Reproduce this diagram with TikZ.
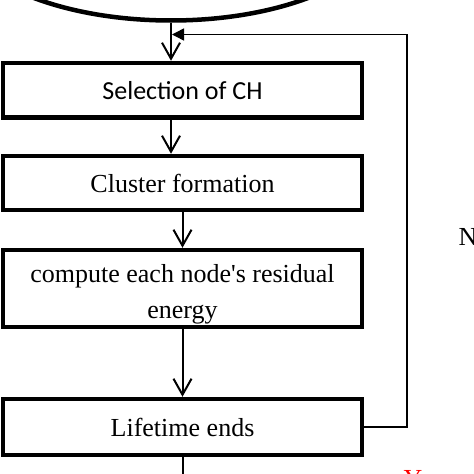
\documentclass[tikz,border=0pt]{standalone}
\usepackage{fontspec}
\setmainfont{Liberation Serif}
\newfontfamily\calibfont{Carlito}
\usetikzlibrary{shapes.geometric,arrows.meta,positioning,calc}

\begin{document}
\begin{tikzpicture}[x=1pt,y=-1pt,font=\fontsize{26}{36}\selectfont,
  stepbox/.style={draw,line width=4.5pt,minimum width=359pt,inner sep=0pt,align=center},
  flow/.style={line width=2pt,-{Straight Barb[length=16pt,width=18pt,line width=2pt]}},
  loopline/.style={line width=1.5pt}]
  \useasboundingbox (0,0) rectangle (474,474);
  \clip (0,0) rectangle (474,474);
  % Start terminal
  \node[draw,ellipse,line width=4.5pt,minimum width=440pt,minimum height=207pt] (start) at (171,-83) {};
  % Steps
  \node[stepbox,minimum height=54.5pt,font=\calibfont\fontsize{26}{36}\selectfont] (sel) at (182.5,90.25) {Selection of CH};
  \node[stepbox,minimum height=54pt] (clus) at (182.5,183) {Cluster formation};
  \node[stepbox,minimum height=77pt] (comp) at (182.5,288.5) {\rule{0pt}{30pt}compute each node\textquotesingle s residual\\energy};
  \node[stepbox,minimum height=56pt] (life) at (182.5,427) {Lifetime ends};
  % Decisions
  \node[anchor=base west] (no) at (455,245.7) {N};
  \node[anchor=base west,text=red] (yes) at (400,487) {Y};
  % Arrows
  \coordinate (lx) at (171,0);
  \coordinate (bot) at (0,474);
  \coordinate (back) at (172,34.5);
  \draw[flow] (start.south) -- (start.south |- sel.north);
  \draw[flow] (lx |- sel.south) -- (lx |- clus.north);
  \draw[flow] (clus.south) -- (comp.north);
  \draw[flow] (comp.south) -- (life.north);
  \draw[line width=2pt] (life.south) -- (life.south |- bot);
  \draw[loopline,-{Triangle[length=12pt,width=12pt]}] (life.east) -- ++(42.5,0) |- (back);
\end{tikzpicture}
\end{document}
